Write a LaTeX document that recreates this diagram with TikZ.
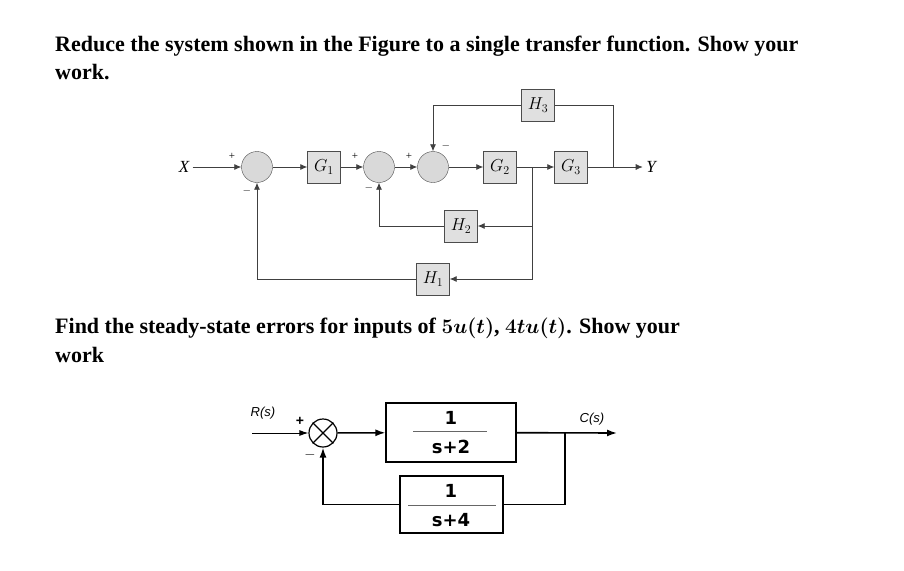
\documentclass[tikz,border=0pt]{standalone}
\usepackage{fontspec}
\setmainfont{Liberation Serif}
\newfontfamily\dvs{DejaVu Sans}
\newfontfamily\lsans{Liberation Sans}
\usetikzlibrary{arrows.meta}
\begin{document}
\begin{tikzpicture}[x=1pt,y=-1pt,
  tline/.style={draw=black!75,line width=0.8pt},
  tarr/.style={tline,-{Latex[length=7pt,width=6pt]}},
  sumc/.style={circle,draw=black!70,fill=black!15,minimum size=31pt,inner sep=0pt},
  gbox/.style={draw=black!70,fill=black!12,minimum width=33pt,minimum height=32pt,inner sep=0pt,font=\fontsize{17}{17}\selectfont},
  sg/.style={font=\fontsize{11}{11}\selectfont,inner sep=0pt},
  bline/.style={draw=black,line width=1.6pt},
  barr/.style={bline,-{Latex[length=10pt,width=7pt]}},
  fbox/.style={draw=black,line width=1.2pt,inner sep=0pt},
  ttl/.style={anchor=west,font=\bfseries\mathversion{bold}\fontsize{22}{22}\selectfont,inner sep=0pt}]
\useasboundingbox (0,0) rectangle (904,570);
\node[ttl] (t1) at (55,46) {Reduce the system shown in the Figure to a single transfer function. Show your};
\node[ttl] (t2) at (55,72) {work.};
\node[ttl] (t3) at (55,328) {Find the steady-state errors for inputs of $5u(t)$, $4tu(t)$. Show your};
\node[ttl] (t4) at (55,355) {work};
% top diagram
\node[font=\itshape\fontsize{17}{17}\selectfont] (X) at (184,167) {X};
\node[sumc] (s1) at (257,167) {};
\node[gbox] (G1) at (324,167) {$G_1$};
\node[sumc] (s2) at (379,167) {};
\node[sumc] (s3) at (433,167) {};
\node[gbox] (G2) at (500,167) {$G_2$};
\node[gbox] (G3) at (571,167) {$G_3$};
\node[gbox] (H3) at (538,105) {$H_3$};
\node[gbox] (H2) at (461,226) {$H_2$};
\node[gbox] (H1) at (433,279) {$H_1$};
\node[font=\itshape\fontsize{17}{17}\selectfont] (Y) at (651,167) {Y};
\coordinate (b1) at (532,167);
\coordinate (b2) at (613,167);
\draw[tarr] (X) -- (s1);
\draw[tarr] (s1) -- (G1);
\draw[tarr] (G1) -- (s2);
\draw[tarr] (s2) -- (s3);
\draw[tarr] (s3) -- (G2);
\draw[tarr] (G2) -- (G3);
\draw[tarr] (G3) -- (Y);
\draw[tline] (b2) |- (H3);
\draw[tarr] (H3) -| (s3);
\draw[tarr] (b1) |- (H2);
\draw[tarr] (b1) |- (H1);
\draw[tarr] (H2) -| (s2);
\draw[tarr] (H1) -| (s1);
\node[sg] (p1) at (232,156) {+};
\node[sg] (m1) at (247,191) {$-$};
\node[sg] (p2) at (355,156) {+};
\node[sg] (m2) at (369,188) {$-$};
\node[sg] (p3) at (409,156) {+};
\node[sg] (m3) at (446,146) {$-$};
% bottom diagram
\node[font=\lsans\itshape\fontsize{13}{13}\selectfont] (R) at (263,413) {R(s)};
\node[circle,draw=black,line width=1.2pt,minimum size=28pt,inner sep=0pt] (sm) at (323,433) {};
\draw[line width=1.2pt] (sm.north west) -- (sm.south east) (sm.north east) -- (sm.south west);
\node[fbox,minimum width=130pt,minimum height=59pt] (B1) at (451,432.5) {};
\node[fbox,minimum width=103pt,minimum height=57pt] (B2) at (451.5,504.5) {};
\node[font=\dvs\bfseries\fontsize{18}{18}\selectfont] (n1) at (451,418) {1};
\node[font=\dvs\bfseries\fontsize{18}{18}\selectfont] (d1) at (451,447) {s+2};
\draw[black!60,line width=0.8pt] (413,431) -- (487,431);
\node[font=\dvs\bfseries\fontsize{18}{18}\selectfont] (n2) at (451,491) {1};
\node[font=\dvs\bfseries\fontsize{18}{18}\selectfont] (d2) at (451,520) {s+4};
\draw[black!60,line width=0.8pt] (408,505) -- (496,505);
\node[font=\lsans\itshape\fontsize{13}{13}\selectfont] (C) at (592,419) {C(s)};
\coordinate (rin) at (252,433);
\coordinate (bb) at (565,433);
\coordinate (cout) at (617,433);
\draw[draw=black,line width=1pt,-{Latex[length=9pt,width=6pt]}] (rin) -- (sm);
\draw[barr] (sm) -- (B1);
\draw[barr] (B1) -- (cout);
\draw[bline] (bb) |- (B2);
\draw[barr] (B2) -| (sm);
\node[font=\lsans\bfseries\fontsize{14}{14}\selectfont] (pp) at (300,421) {+};
\node[font=\lsans\bfseries\fontsize{14}{14}\selectfont] (mm) at (310,455) {$-$};
\end{tikzpicture}
\end{document}
